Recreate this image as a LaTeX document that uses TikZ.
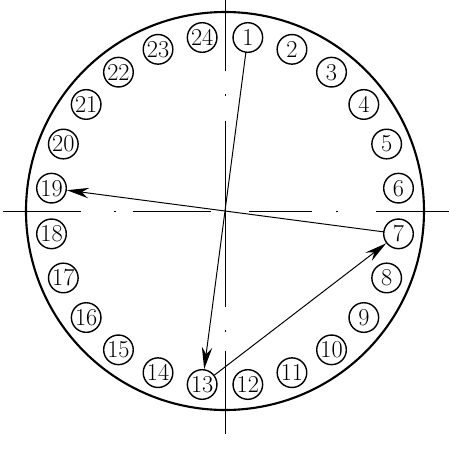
\documentclass[tikz,border=0pt]{standalone}
\usepackage{amsmath}
\usetikzlibrary{arrows.meta}

\begin{document}
\begin{tikzpicture}[x=0.025cm,y=0.025cm,>={Stealth[length=5.5mm,width=2.6mm]},
      hole/.style={circle,draw,line width=1pt,minimum size=0.74cm,inner sep=0pt,font=\LARGE},
      centerline/.style={line width=0.7pt}]

    \useasboundingbox (-225,-239) rectangle (225,211);

    \draw[line width=1.5pt] (0,0) circle (199);

    % centre lines
    \coordinate (west) at (-222,0);
    \coordinate (east) at (225,0);
    \coordinate (north) at (0,211);
    \coordinate (south) at (0,-224);
    \draw[centerline,dash pattern=on 55.3pt off 23.4pt on 1.4pt off 12pt on 56pt off 12.8pt on 1.4pt off 12.8pt
      on 44.6pt off 17pt on 1.4pt off 27pt on 52pt] (west) -- (east);
    \draw[centerline,dash pattern=on 50.3pt off 16.3pt on 1.4pt off 18.4pt on 131.8pt off 16.3pt on 1.4pt
      off 13.5pt on 59pt] (north) -- (south);

    \node[hole] (h1) at (82.5:175) {1};
    \node[hole] (h2) at (67.5:175) {2};
    \node[hole] (h3) at (52.5:175) {3};
    \node[hole] (h4) at (37.5:175) {4};
    \node[hole] (h5) at (22.5:175) {5};
    \node[hole] (h6) at (7.5:175) {6};
    \node[hole] (h7) at (-7.5:175) {7};
    \node[hole] (h8) at (-22.5:175) {8};
    \node[hole] (h9) at (-37.5:175) {9};
    \node[hole] (h10) at (-52.5:175) {10};
    \node[hole] (h11) at (-67.5:175) {11};
    \node[hole] (h12) at (-82.5:175) {12};
    \node[hole] (h13) at (-97.5:175) {13};
    \node[hole] (h14) at (-112.5:175) {14};
    \node[hole] (h15) at (-127.5:175) {15};
    \node[hole] (h16) at (-142.5:175) {16};
    \node[hole] (h17) at (-157.5:175) {17};
    \node[hole] (h18) at (-172.5:175) {18};
    \node[hole] (h19) at (172.5:175) {19};
    \node[hole] (h20) at (157.5:175) {20};
    \node[hole] (h21) at (142.5:175) {21};
    \node[hole] (h22) at (127.5:175) {22};
    \node[hole] (h23) at (112.5:175) {23};
    \node[hole] (h24) at (97.5:175) {24};

    \path[->,line width=0.7pt] (h1) edge (h13)
    (h13) edge (h7)
    (h7) edge (h19);
  \end{tikzpicture}
\end{document}
